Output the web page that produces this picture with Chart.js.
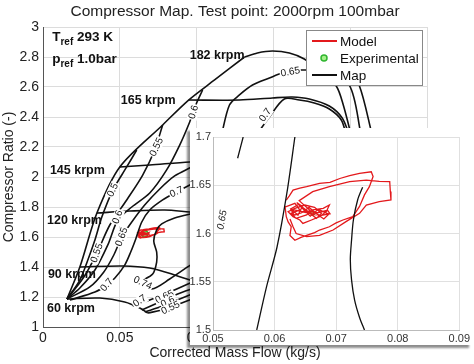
<!DOCTYPE html>
<html>
<head>
<meta charset="utf-8">
<script src="https://cdn.jsdelivr.net/npm/chart.js@4.4.1/dist/chart.umd.min.js"></script>
<style>
  html, body { margin: 0; padding: 0; background: #fff; }
  #wrap { position: relative; width: 474px; height: 364px; overflow: hidden; }
  #main { position: absolute; left: 0; top: 0; }
  #inset { position: absolute; left: 190px; top: 128px; background: #fff; box-shadow: -3px 3px 2px rgba(0,0,0,0.45); }
</style>
</head>
<body>
<div id="wrap">
  <canvas id="main" width="474" height="364"></canvas>
  <canvas id="inset" width="282" height="217"></canvas>
</div>
<script>
var FONT = '"Liberation Sans", Arial, Helvetica, sans-serif';

// ---- map: surge line and speed lines ----
var surgeX = [0.0156, 0.0240, 0.0351, 0.0500, 0.0779, 0.0948, 0.1117, 0.1312];
var surgeY = [1.187, 1.400, 1.760, 2.067, 2.347, 2.513, 2.647, 2.800];

var n60X = [0.0156, 0.0370, 0.0532, 0.0630, 0.0682];
var n60Y = [1.187, 1.193, 1.167, 1.127, 1.093];
var n90X = [0.0240, 0.0519, 0.0695, 0.0857, 0.1052];
var n90Y = [1.400, 1.407, 1.393, 1.347, 1.280];
var n120X = [0.0351, 0.0565, 0.0792, 0.0955, 0.1052];
var n120Y = [1.760, 1.773, 1.780, 1.767, 1.760];
var n145X = [0.0500, 0.0695, 0.0955, 0.1052];
var n145Y = [2.067, 2.080, 2.100, 2.100];
var n165X = [0.0948, 0.1279, 0.1494, 0.1623, 0.1734, 0.1864, 0.1948, 0.1994];
var n165Y = [2.513, 2.513, 2.527, 2.533, 2.520, 2.473, 2.393, 2.280];
var n182X = [0.1312, 0.1396, 0.1494, 0.1604, 0.1701, 0.1799, 0.1909, 0.1955, 0.2006];
var n182Y = [2.800, 2.827, 2.840, 2.827, 2.787, 2.713, 2.607, 2.480, 2.280];

// ---- map: efficiency contours ----
var e50X = [0.0610, 0.0545, 0.0455, 0.0383, 0.0338, 0.0292, 0.0240, 0.0156];
var e50Y = [2.180, 2.067, 1.913, 1.733, 1.580, 1.447, 1.313, 1.187];
var e55X = [0.0779, 0.0727, 0.0649, 0.0545, 0.0435, 0.0351, 0.0266, 0.0156];
var e55Y = [2.347, 2.180, 2.013, 1.847, 1.680, 1.493, 1.333, 1.187];
var e60X = [0.1039, 0.1000, 0.0955, 0.0890, 0.0805, 0.0695, 0.0578, 0.0487, 0.0422, 0.0338, 0.0240, 0.0156];
var e60Y = [2.580, 2.493, 2.367, 2.213, 2.047, 1.893, 1.800, 1.713, 1.547, 1.380, 1.260, 1.187];
var e65X = [0.0968, 0.0857, 0.0760, 0.0662, 0.0578, 0.0513, 0.0461, 0.0396, 0.0305, 0.0156];
var e65Y = [2.067, 2.007, 1.920, 1.813, 1.700, 1.600, 1.480, 1.367, 1.267, 1.187];
var e70X = [0.0968, 0.0870, 0.0779, 0.0695, 0.0643, 0.0604, 0.0571, 0.0532, 0.0468, 0.0416, 0.0338, 0.0175];
var e70Y = [1.953, 1.900, 1.847, 1.780, 1.700, 1.587, 1.500, 1.413, 1.327, 1.280, 1.233, 1.180];
var e74X = [0.0987, 0.0857, 0.0773, 0.0740, 0.0721, 0.0740, 0.0740, 0.0714, 0.0630, 0.0708, 0.0825, 0.0987];
var e74Y = [1.760, 1.727, 1.687, 1.647, 1.573, 1.500, 1.433, 1.353, 1.293, 1.253, 1.320, 1.433];
var e70rX = [0.0584, 0.0695, 0.0825, 0.0987];
var e70rY = [1.140, 1.180, 1.233, 1.307];
var e65rX = [0.0643, 0.0760, 0.0877, 0.0987];
var e65rY = [1.113, 1.167, 1.220, 1.260];
var e60rX = [0.0662, 0.0779, 0.0890, 0.0987];
var e60rY = [1.100, 1.140, 1.187, 1.227];
var e55rX = [0.0682, 0.0799, 0.0903, 0.0987];
var e55rY = [1.093, 1.120, 1.160, 1.193];
var e65uX = [0.1162, 0.1214, 0.1279, 0.1364, 0.1474, 0.1558, 0.1682, 0.1831, 0.1994, 0.2071];
var e65uY = [2.280, 2.480, 2.547, 2.613, 2.660, 2.693, 2.713, 2.700, 2.613, 2.280];
var e70uX = [0.1390, 0.1474, 0.1571, 0.1669, 0.1766, 0.1864, 0.1942, 0.1974];
var e70uY = [2.280, 2.400, 2.520, 2.513, 2.493, 2.453, 2.380, 2.280];
var e60uX = [0.1961, 0.2058, 0.2143];
var e60uY = [2.767, 2.613, 2.280];

// ---- model trajectory and experimental point ----
var modelX = [0.0619, 0.0624, 0.0630, 0.0641, 0.0652, 0.0673, 0.0690, 0.0706, 0.0722, 0.0738, 0.0757, 0.0760, 0.0754, 0.0746, 0.0738, 0.0727, 0.0711, 0.0700, 0.0689, 0.0673, 0.0665, 0.0652, 0.0643, 0.0633, 0.0625, 0.0627, 0.0622, 0.0619, 0.0617,
  0.0619, 0.0633, 0.0641, 0.0627, 0.0635, 0.0652, 0.0662, 0.0679, 0.0689, 0.0684, 0.0673, 0.0660, 0.0646, 0.0641, 0.0630, 0.0622, 0.0633, 0.0649, 0.0665, 0.0676, 0.0668, 0.0654, 0.0662,
  0.0628, 0.0638, 0.0645, 0.0636, 0.0650, 0.0658, 0.0671, 0.0688, 0.0680, 0.0667, 0.0656, 0.0644, 0.0632, 0.0626, 0.0639, 0.0653, 0.0670, 0.0686, 0.0690, 0.0674, 0.0659,
  0.0640, 0.0662, 0.0689, 0.0722, 0.0749, 0.0770, 0.0787, 0.0788, 0.0789, 0.0770, 0.0749, 0.0738, 0.0716, 0.0695, 0.0673, 0.0652, 0.0635, 0.0630, 0.0625];
var modelY = [1.6347, 1.6390, 1.6450, 1.6470, 1.6485, 1.6520, 1.6530, 1.6570, 1.6600, 1.6624, 1.6640, 1.6590, 1.6485, 1.6400, 1.6280, 1.6174, 1.6140, 1.6110, 1.6070, 1.6036, 1.6010, 1.5980, 1.5960, 1.5930, 1.5980, 1.6070, 1.6120, 1.6174, 1.6280,
  1.6278, 1.6313, 1.6244, 1.6209, 1.6157, 1.6192, 1.6244, 1.6261, 1.6295, 1.6226, 1.6174, 1.6140, 1.6105, 1.6140, 1.6174, 1.6226, 1.6261, 1.6295, 1.6271, 1.6209, 1.6157, 1.6226, 1.6202,
  1.6250, 1.6190, 1.6280, 1.6320, 1.6230, 1.6180, 1.6250, 1.6200, 1.6150, 1.6210, 1.6270, 1.6215, 1.6190, 1.6255, 1.6300, 1.6235, 1.6215, 1.6240, 1.6205, 1.6185, 1.6230,
  1.6340, 1.6434, 1.6485, 1.6537, 1.6554, 1.6540, 1.6537, 1.6434, 1.6347, 1.6330, 1.6295, 1.6209, 1.6123, 1.6036, 1.5980, 1.5967, 1.6000, 1.6070, 1.6150];
var expX = [0.0662];
var expY = [1.621];

// ---- inset map lines ----
var inA_X = [0.0571, 0.0587, 0.0604, 0.0620, 0.0633];
var inA_Y = [1.500, 1.545, 1.586, 1.642, 1.700];
var inB_X = [0.0540, 0.0549];
var inB_Y = [1.678, 1.700];
var inC_X = [0.0746, 0.0738, 0.0730, 0.0725, 0.0723, 0.0725, 0.0728, 0.0735, 0.0743];
var inC_Y = [1.500, 1.513, 1.531, 1.552, 1.573, 1.593, 1.614, 1.635, 1.648];

// ---- labels ----
var speedText = ['60 krpm', '90 krpm', '120 krpm', '145 krpm', '165 krpm', '182 krpm'];
var speedAt = [[0.0026, 1.12], [0.0032, 1.347], [0.0026, 1.713], [0.0045, 2.04], [0.0506, 2.513], [0.0955, 2.813]];
var effText = ['0.5', '0.55', '0.6', '0.6', '0.55', '0.65', '0.7', '0.74', '0.7', '0.65', '0.6', '0.55', '0.7', '0.65', '0.7'];
var effAt = [[0.0455, 1.913, -65], [0.0740, 2.200, -65], [0.0981, 2.433, -75], [0.0487, 1.733, -70], [0.0351, 1.493, -70],
  [0.0513, 1.600, -70], [0.0416, 1.280, -50], [0.0649, 1.293, 25], [0.0630, 1.173, -35], [0.0792, 1.200, -25],
  [0.0812, 1.167, -25], [0.0831, 1.127, -25], [0.0870, 1.900, -25], [0.1610, 2.700, -10], [0.1448, 2.413, -55]];

function pts(xs, ys) {
  return xs.map(function(v, i) { return {x: v, y: ys[i]}; });
}

function tickFmt(v) {
  return String(Math.round(v * 1000) / 1000);
}

function mapLine(xs, ys, w) {
  return {data: pts(xs, ys), showLine: true, borderColor: '#111', borderWidth: w || 1.6,
    pointRadius: 0, tension: 0.3, fill: false};
}

var mapSets = [
  mapLine(surgeX, surgeY), mapLine(n60X, n60Y), mapLine(n90X, n90Y), mapLine(n120X, n120Y),
  mapLine(n145X, n145Y), mapLine(n165X, n165Y), mapLine(n182X, n182Y),
  mapLine(e50X, e50Y), mapLine(e55X, e55Y), mapLine(e60X, e60Y), mapLine(e65X, e65Y),
  mapLine(e70X, e70Y), mapLine(e74X, e74Y), mapLine(e70rX, e70rY), mapLine(e65rX, e65rY),
  mapLine(e60rX, e60rY), mapLine(e55rX, e55rY), mapLine(e65uX, e65uY), mapLine(e70uX, e70uY),
  mapLine(e60uX, e60uY)
];

var modelSet = {data: pts(modelX, modelY), showLine: true, borderColor: '#e3191c', borderWidth: 1.4,
  pointRadius: 0, tension: 0, fill: false};
var expSet = {data: pts(expX, expY), showLine: false, pointRadius: 3.2, pointBackgroundColor: '#a6f08a',
  pointBorderColor: '#2fb52f', pointBorderWidth: 1.5};

var mainNotes = {
  id: 'mainNotes',
  afterDatasetsDraw: function(chart) {
    var ctx = chart.ctx, x = chart.scales.x, y = chart.scales.y;
    ctx.save();
    // efficiency labels, inline on the contours
    ctx.font = '10px ' + FONT;
    ctx.textAlign = 'center';
    ctx.textBaseline = 'middle';
    effText.forEach(function(t, i) {
      var a = effAt[i];
      ctx.save();
      ctx.translate(x.getPixelForValue(a[0]), y.getPixelForValue(a[1]));
      ctx.rotate(a[2] * Math.PI / 180);
      var w = ctx.measureText(t).width;
      ctx.fillStyle = '#fff';
      ctx.fillRect(-w / 2 - 1, -5, w + 2, 10);
      ctx.fillStyle = '#111';
      ctx.fillText(t, 0, 0);
      ctx.restore();
    });
    // speed labels
    ctx.font = 'bold 12.5px ' + FONT;
    ctx.textAlign = 'left';
    ctx.fillStyle = '#111';
    speedText.forEach(function(t, i) {
      ctx.fillText(t, x.getPixelForValue(speedAt[i][0]), y.getPixelForValue(speedAt[i][1]));
    });
    // reference conditions
    var rx = x.getPixelForValue(0.006);
    [['T', 'ref', ' 293 K', 2.93], ['p', 'ref', ' 1.0bar', 2.787]].forEach(function(r) {
      var ry = y.getPixelForValue(r[3]);
      ctx.font = 'bold 13.5px ' + FONT;
      ctx.fillText(r[0], rx, ry);
      var w0 = ctx.measureText(r[0]).width;
      ctx.font = 'bold 10px ' + FONT;
      ctx.fillText(r[1], rx + w0, ry + 5);
      var w1 = ctx.measureText(r[1]).width;
      ctx.font = 'bold 13.5px ' + FONT;
      ctx.fillText(r[2], rx + w0 + w1, ry);
    });
    ctx.restore();
  },
  afterDraw: function(chart) {
    // legend box in the upper right corner
    var ctx = chart.ctx, area = chart.chartArea;
    var bw = 116, bh = 55;
    var bx = area.right - 5 - bw, by = area.top + 3;
    ctx.save();
    ctx.fillStyle = '#fff';
    ctx.fillRect(bx, by, bw, bh);
    ctx.strokeStyle = '#888';
    ctx.lineWidth = 1;
    ctx.strokeRect(bx + 0.5, by + 0.5, bw, bh);
    ctx.font = '13.5px ' + FONT;
    ctx.textBaseline = 'middle';
    ctx.fillStyle = '#111';
    var rows = [['Model', 'line', '#e3191c'], ['Experimental', 'dot'], ['Map', 'line', '#111']];
    rows.forEach(function(r, i) {
      var yy = by + 11 + i * 17;
      if (r[1] === 'line') {
        ctx.strokeStyle = r[2];
        ctx.lineWidth = 2;
        ctx.beginPath();
        ctx.moveTo(bx + 6, yy);
        ctx.lineTo(bx + 31, yy);
        ctx.stroke();
      } else {
        ctx.beginPath();
        ctx.arc(bx + 18, yy, 3, 0, Math.PI * 2);
        ctx.fillStyle = '#a6f08a';
        ctx.fill();
        ctx.strokeStyle = '#2fb52f';
        ctx.lineWidth = 1.5;
        ctx.stroke();
        ctx.fillStyle = '#111';
      }
      ctx.fillText(r[0], bx + 34, yy + 1);
    });
    ctx.restore();
  }
};

new Chart(document.getElementById('main'), {
  type: 'scatter',
  data: {datasets: mapSets.concat([modelSet, expSet])},
  options: {
    responsive: false,
    animation: false,
    layout: {padding: {left: 0, right: 47, top: 0, bottom: 0}},
    plugins: {
      legend: {display: false},
      tooltip: {enabled: false},
      title: {display: true, fullSize: false, text: 'Compressor Map. Test point: 2000rpm 100mbar', color: '#222',
        font: {size: 15.5, family: FONT, weight: 'normal'}, padding: {top: 2, bottom: 6.4}}
    },
    scales: {
      x: {
        type: 'linear', min: 0, max: 0.25,
        afterFit: function(s) { s.height = 37; },
        ticks: {stepSize: 0.05, color: '#222', padding: 3, font: {size: 14, family: FONT}, callback: tickFmt},
        grid: {color: '#dcdcdc', drawTicks: false},
        border: {color: '#555'},
        title: {display: true, text: 'Corrected Mass Flow (kg/s)', color: '#222',
          font: {size: 14, family: FONT}, padding: {top: 0, bottom: 2}}
      },
      y: {
        type: 'linear', min: 1, max: 3,
        afterFit: function(s) { s.width = 43; },
        ticks: {stepSize: 0.2, color: '#222', padding: 4, font: {size: 14, family: FONT}, callback: tickFmt},
        grid: {color: '#dcdcdc', drawTicks: false},
        border: {color: '#555'},
        title: {display: true, text: 'Compressor Ratio (-)', color: '#222',
          font: {size: 14, family: FONT}, padding: {top: 1, bottom: 0}}
      }
    }
  },
  plugins: [mainNotes]
});

// ---- inset: zoom on the test point ----
var insetNotes = {
  id: 'insetNotes',
  afterDatasetsDraw: function(chart) {
    var ctx = chart.ctx, x = chart.scales.x, y = chart.scales.y;
    ctx.save();
    ctx.translate(x.getPixelForValue(0.0515), y.getPixelForValue(1.614));
    ctx.rotate(-80 * Math.PI / 180);
    ctx.font = 'italic 10px ' + FONT;
    ctx.textAlign = 'center';
    ctx.textBaseline = 'middle';
    ctx.fillStyle = '#222';
    ctx.fillText('0.65', 0, 0);
    ctx.restore();
  }
};

function insetLine(xs, ys) {
  return {data: pts(xs, ys), showLine: true, borderColor: '#111', borderWidth: 1.3,
    pointRadius: 0, tension: 0.3, fill: false};
}

new Chart(document.getElementById('inset'), {
  type: 'scatter',
  data: {datasets: [
    insetLine(inA_X, inA_Y), insetLine(inB_X, inB_Y), insetLine(inC_X, inC_Y),
    Object.assign({}, modelSet, {data: pts(modelX, modelY), borderWidth: 1.3}),
    Object.assign({}, expSet, {data: pts(expX, expY), pointRadius: 2.2, pointBorderWidth: 1})
  ]},
  options: {
    responsive: false,
    animation: false,
    layout: {padding: {left: 0, right: 12, top: 9, bottom: 0}},
    plugins: {legend: {display: false}, tooltip: {enabled: false}},
    scales: {
      x: {
        type: 'linear', min: 0.05, max: 0.09,
        afterFit: function(s) { s.height = 15; },
        ticks: {stepSize: 0.01, color: '#333', padding: 2, font: {size: 11, family: FONT}, callback: tickFmt},
        grid: {color: '#e0e0e0', drawTicks: false},
        border: {color: '#bbb'}
      },
      y: {
        type: 'linear', min: 1.5, max: 1.7,
        afterFit: function(s) { s.width = 23; },
        ticks: {stepSize: 0.05, color: '#333', padding: 2, font: {size: 11, family: FONT}, callback: tickFmt},
        grid: {color: '#e0e0e0', drawTicks: false},
        border: {color: '#bbb'}
      }
    }
  },
  plugins: [insetNotes]
});
</script>
</body>
</html>
